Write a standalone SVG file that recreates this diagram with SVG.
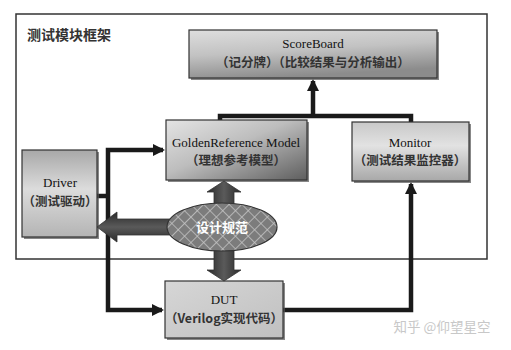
<svg xmlns="http://www.w3.org/2000/svg" width="511" height="350" viewBox="0 0 511 350">
<style>
.en{font-family:"Liberation Serif","Times New Roman",serif;font-size:13px;fill:#111;text-anchor:middle}
.cn{font-family:"Noto Sans CJK SC","Noto Sans",sans-serif;font-size:12.5px;fill:#333;text-anchor:middle;font-weight:bold}
.box{stroke:#333;stroke-width:1.2}
.shadow{fill:#555;opacity:0.7}
.conn{fill:none;stroke:#1a1a1a;stroke-width:4.5;stroke-linejoin:miter}
.fat{fill:url(#gFat);stroke:#333;stroke-width:0.8}
</style>
<defs>
<marker id="ah" markerUnits="userSpaceOnUse" markerWidth="12" markerHeight="12" refX="10" refY="6" orient="auto">
<path d="M0,0 L12,6 L0,12 Z" fill="#1a1a1a"/>
</marker>
<linearGradient id="gScore" x1="0" y1="0" x2="0.3" y2="1">
<stop offset="0" stop-color="#dedede"/><stop offset="0.5" stop-color="#c2c2c2"/><stop offset="1" stop-color="#8c8c8c"/>
</linearGradient>
<linearGradient id="gGold" x1="0" y1="0" x2="1" y2="1">
<stop offset="0" stop-color="#e4e4e4"/><stop offset="0.45" stop-color="#bdbdbd"/><stop offset="1" stop-color="#5e5e5e"/>
</linearGradient>
<linearGradient id="gMon" x1="0" y1="0" x2="0" y2="1">
<stop offset="0" stop-color="#c8c8c8"/><stop offset="0.4" stop-color="#e2e2e2"/><stop offset="1" stop-color="#a8a8a8"/>
</linearGradient>
<linearGradient id="gDrv" x1="0" y1="0" x2="0" y2="1">
<stop offset="0" stop-color="#a8a8a8"/><stop offset="0.45" stop-color="#dcdcdc"/><stop offset="1" stop-color="#b4b4b4"/>
</linearGradient>
<linearGradient id="gDut" x1="0" y1="0" x2="1" y2="1">
<stop offset="0" stop-color="#d6d6d6"/><stop offset="1" stop-color="#c0c0c0"/>
</linearGradient>
<linearGradient id="gFat" x1="0" y1="0" x2="1" y2="0">
<stop offset="0" stop-color="#2a2a2a"/><stop offset="0.5" stop-color="#5a5a5a"/><stop offset="1" stop-color="#2a2a2a"/>
</linearGradient>
<linearGradient id="gFatH" x1="0" y1="0" x2="0" y2="1">
<stop offset="0" stop-color="#2a2a2a"/><stop offset="0.5" stop-color="#5a5a5a"/><stop offset="1" stop-color="#2a2a2a"/>
</linearGradient>
<pattern id="hatch" width="9" height="9" patternUnits="userSpaceOnUse" patternTransform="rotate(45)">
<rect width="9" height="9" fill="#7c7c7c"/>
<path d="M0,0 H9 M0,0 V9" stroke="#c4c4c4" stroke-width="1.6"/>
</pattern>
</defs>

<rect width="511" height="350" fill="#fff"/>

<g id="frame">
<rect x="16" y="14" width="471" height="245" fill="none" stroke="#333" stroke-width="1.5"/>
<text x="27" y="40" style="font-family:'Noto Sans CJK SC','Noto Sans',sans-serif;font-size:14px;fill:#333;font-weight:bold">测试模块框架</text>
</g>

<g id="connectors">
<path class="conn" d="M97,196 H108"/>
<path class="conn" d="M108,196 V150 H163" marker-end="url(#ah)"/>
<path class="conn" d="M108,196 V310 H162" marker-end="url(#ah)"/>
<path class="conn" d="M220,120 V116 H411 V122"/>
<path class="conn" d="M313,116 V81" marker-end="url(#ah)"/>
<path class="conn" d="M283,310 H411 V184" marker-end="url(#ah)"/>
</g>

<g id="scoreboard">
<rect class="shadow" x="191" y="32" width="248" height="48"/>
<rect class="box" x="189" y="30" width="248" height="48" fill="url(#gScore)"/>
<text class="en" x="313" y="48">ScoreBoard</text>
<text class="cn" x="313" y="67">（记分牌）（比较结果与分析输出）</text>
</g>

<g id="golden">
<rect class="shadow" x="168" y="122" width="141" height="60"/>
<rect class="box" x="166" y="120" width="141" height="60" fill="url(#gGold)"/>
<text class="en" x="236" y="147">GoldenReference Model</text>
<text class="cn" x="236" y="165">（理想参考模型）</text>
</g>

<g id="monitor">
<rect class="shadow" x="354" y="124" width="117" height="59"/>
<rect class="box" x="352" y="122" width="117" height="59" fill="url(#gMon)"/>
<text class="en" x="410" y="147">Monitor</text>
<text class="cn" x="410" y="165">（测试结果监控器）</text>
</g>

<g id="driver">
<rect class="shadow" x="24" y="152" width="75" height="87"/>
<rect class="box" x="22" y="150" width="75" height="87" fill="url(#gDrv)"/>
<text class="en" x="60" y="187">Driver</text>
<text class="cn" x="60" y="206">（测试驱动）</text>
</g>

<g id="dut">
<rect class="shadow" x="167" y="283" width="118" height="57"/>
<rect class="box" x="165" y="281" width="118" height="57" fill="url(#gDut)"/>
<text class="en" x="224" y="304">DUT</text>
<text class="cn" x="224" y="323">（Verilog实现代码）</text>
</g>

<g id="spec">
<path class="fat" d="M214,206 V192 H207 L224,181 L241,192 H234 V206 Z"/>
<path class="fat" d="M214,248 V270 H207 L224,281 L241,270 H234 V248 Z"/>
<path d="M170,219 H117 V212 L97,227 L117,242 V235 H170 Z" fill="url(#gFatH)" stroke="#333" stroke-width="0.8"/>
<ellipse cx="222" cy="227" rx="55" ry="24" fill="url(#hatch)" stroke="#333" stroke-width="1.2"/>
<text x="222" y="232" style="font-family:'Noto Sans CJK SC','Noto Sans',sans-serif;font-size:13px;fill:#fff;text-anchor:middle;font-weight:bold">设计规范</text>
</g>

<g id="watermark">
<text x="442" y="332" style="font-family:'Noto Sans CJK SC','Noto Sans',sans-serif;font-size:13.5px;fill:#c8c8c8;text-anchor:middle">知乎 @仰望星空</text>
</g>
</svg>
